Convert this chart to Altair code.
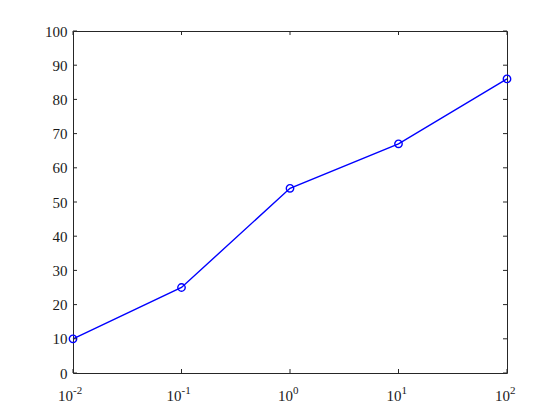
import altair as alt
import pandas as pd

# data
x_vals = [0.01, 0.1, 1, 10, 100]
y_vals = [10, 25, 54, 67, 86]
x_ticks = [0.01, 0.1, 1, 10, 100]
x_exps = ["-2", "-1", "0", "1", "2"]
y_ticks = [0, 10, 20, 30, 40, 50, 60, 70, 80, 90, 100]

W, H = 434, 342
FONT = "Liberation Serif"
BLUE = "#0000ff"

df = pd.DataFrame({"x": x_vals, "y": y_vals})
xt = pd.DataFrame({"x": x_ticks, "e": x_exps,
                   "neg": [1 if e.startswith("-") else 0 for e in x_exps]})
yt = pd.DataFrame({"y": y_ticks})

xs = alt.Scale(type="log", domain=[0.01, 100], nice=False)
ys = alt.Scale(domain=[0, 100], nice=False)

YAX = alt.Axis(values=y_ticks, labelFont=FONT, labelFontSize=15,
               labelColor="#1a1a1a", labelPadding=6, ticks=False,
               tickSize=0, domain=False, grid=False, title=None,
               labelOverlap=False, labelFlush=False)
X = alt.X("x:Q", scale=xs, axis=None)
Y = alt.Y("y:Q", scale=ys, axis=YAX)

line = alt.Chart(df).mark_line(color=BLUE, strokeWidth=1.4).encode(x=X, y=Y)
pts = alt.Chart(df).mark_point(shape="circle", filled=False, color=BLUE, size=55,
                               strokeWidth=1.4, opacity=1).encode(x=X, y=Y)

# inward ticks
xb = alt.Chart(xt).mark_rule(color="#262626", strokeWidth=1).encode(
    x=X, y=alt.value(H), y2=alt.value(H - 4))
xtop = alt.Chart(xt).mark_rule(color="#262626", strokeWidth=1).encode(
    x=X, y=alt.value(0), y2=alt.value(4))
yl = alt.Chart(yt).mark_rule(color="#262626", strokeWidth=1).encode(
    y=Y, x=alt.value(0), x2=alt.value(4))
yr = alt.Chart(yt).mark_rule(color="#262626", strokeWidth=1).encode(
    y=Y, x=alt.value(W), x2=alt.value(W - 4))

# x tick labels: 10^e
def lab(neg, dx):
    base = alt.Chart(xt).transform_filter(alt.datum.neg == neg)
    ten = base.mark_text(font=FONT, fontSize=15, align="right", baseline="alphabetic",
                         dx=dx, color="#1a1a1a").encode(
        x=X, y=alt.value(H + 28), text=alt.value("10"))
    ex = base.mark_text(font=FONT, fontSize=11, align="left", baseline="alphabetic",
                        dx=dx, color="#1a1a1a").encode(
        x=X, y=alt.value(H + 21), text="e:N")
    return ten + ex

chart = alt.layer(line, pts, xb, xtop, yl, yr, lab(1, 0), lab(0, 3)).properties(
    width=W, height=H,
    autosize=alt.AutoSizeParams(type="none"),
    padding={"left": 65, "top": 23, "right": 45, "bottom": 38},
    background="white",
).configure_view(stroke="#262626", strokeWidth=1)

chart.save("out.html", embed_options={"renderer": "svg", "actions": False})
